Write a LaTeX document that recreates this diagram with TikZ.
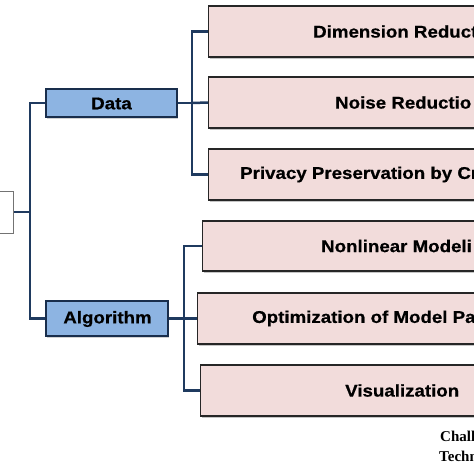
\documentclass[tikz,border=0pt]{standalone}
\usepackage{fontspec}
\setmainfont{Liberation Sans}
\newfontfamily\boxfont[FakeStretch=1.1, FakeBold=0.6]{Liberation Sans Bold}
\newfontfamily\capfont{Liberation Serif}
\usetikzlibrary{shadows}
\definecolor{navy}{HTML}{1F3A5F}
\definecolor{boxblue}{HTML}{8DB4E2}
\definecolor{boxpink}{HTML}{F2DCDB}
\begin{document}
\begin{tikzpicture}[x=1pt, y=-1pt,
        conn/.style={draw=navy, line width=2.5pt},
        bluebox/.style={draw=navy!80!black, line width=1.2pt, fill=boxblue, inner sep=0pt,
            drop shadow={shadow xshift=1pt, shadow yshift=-1.5pt, fill=black!35}},
        pinkbox/.style={draw=black!85, line width=1.3pt, fill=boxpink, inner sep=0pt, anchor=west,
            minimum width=320pt, drop shadow={shadow xshift=1pt, shadow yshift=-1.5pt, fill=black!45}},
        boxtext/.style={font=\boxfont\fontsize{17}{19}\selectfont, inner sep=0pt, anchor=west},
        captext/.style={font=\capfont\fontsize{15}{17}\selectfont\bfseries, inner sep=0pt, anchor=west}]
    \useasboundingbox (0,0) rectangle (474,474);
    \fill[white] (0,0) rectangle (474,474);
    \clip (0,0) rectangle (474,474);
    \node[draw=black!55, line width=1pt, fill=white, minimum width=24pt, minimum height=42pt, anchor=east] (root) at (14,212) {};
    \node[bluebox, minimum width=131pt, minimum height=28pt] (data) at (111.5,103) {};
    \node[boxtext, anchor=center] at (111.5,103.5) {Data};
    \node[bluebox, minimum width=122pt, minimum height=35pt] (algo) at (107,318.5) {};
    \node[boxtext, anchor=center] at (107.5,319) {Algorithm};
    \foreach \name/\x/\y/\h/\tx/\label in {
            dimred/208/31.5/51/313/{Dimension Reduct},
            noise/208/102.5/51/335/{Noise Reductio},
            privacy/208/174.5/51/240/{Privacy Preservation by Cr},
            nonlin/202/246/50/321/{Nonlinear Modeli},
            optim/197/318.5/51/252/{Optimization of Model Pa},
            visual/200/390.5/51/345/{Visualization}}{
        \node[pinkbox, minimum height=\h pt] (\name) at (\x,\y) {};
        \node[boxtext] (\name-text) at (\tx,\y) {\label};
    }
    \coordinate (t1) at (30,212);
    \coordinate (f1) at (192,103);
    \coordinate (f2) at (184,318.5);
    \draw[conn] (root.east) -- (t1);
    \draw[conn] (data.west) -| (t1) |- (algo.west);
    \draw[conn] (data.east) -- (f1);
    \draw[conn] (dimred.west) -| (f1) |- (privacy.west);
    \draw[conn] (f1) -- (noise.west);
    \draw[conn] (algo.east) -- (f2);
    \draw[conn] (nonlin.west) -| (f2) |- (visual.west);
    \draw[conn] (f2) -- (optim.west);
    \node[captext] (cap1) at (440,436) {Chall};
    \node[captext] (cap2) at (439,456) {Techn};
\end{tikzpicture}
\end{document}
